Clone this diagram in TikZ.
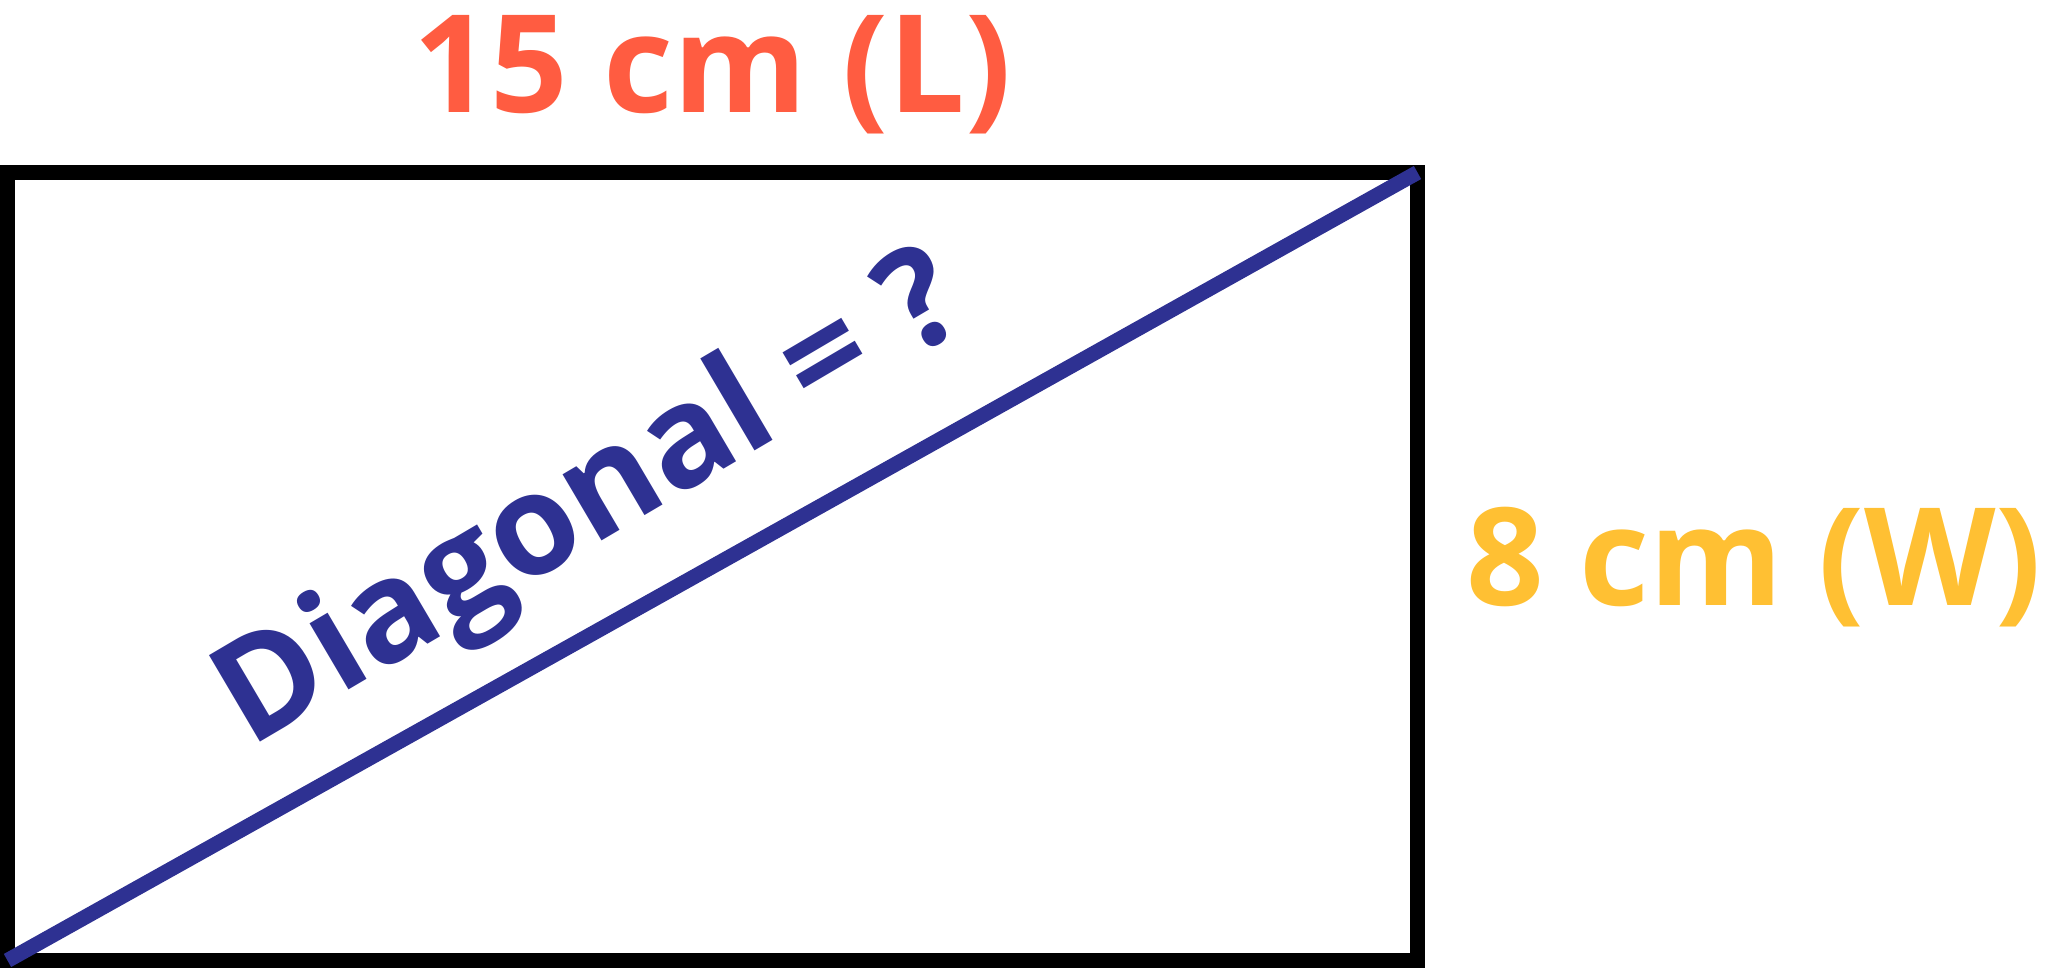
\documentclass[tikz,border=0pt]{standalone}
\usepackage{fontspec}
\setmainfont{Open Sans}
\usepackage{tikz}
\usetikzlibrary{positioning}
\usepackage{xcolor}
\definecolor{lenred}{HTML}{FF5C41}
\definecolor{widyellow}{HTML}{FFC033}
\definecolor{diagblue}{HTML}{2E3192}

\begin{document}
\begin{tikzpicture}[lbl/.style={font=\bfseries\fontsize{38.7}{46}\selectfont, inner sep=0pt}]
    \useasboundingbox (0,0) rectangle (20.48,9.69);
    % 矩形与对角线
    \node[draw=black, line width=0.15cm, rectangle, outer sep=0pt, minimum width=14.10cm, minimum height=7.88cm] (field) at (7.125,4.025) {};

    \node[lbl, text=lenred, anchor=base] (len) at (7.125,8.56) {15 cm (L)};
    \node[lbl, text=widyellow, anchor=base] (wid) at (17.54,3.64) {8 cm (W)};
    \node[lbl, font=\bfseries\fontsize{40}{48}\selectfont, text=diagblue, rotate=30.5, anchor=base west] (diag) at (2.49,2.20) {Diagonal = ?};

    \draw[diagblue, line width=0.15cm] (field.south west) -- (field.north east);
\end{tikzpicture}
\end{document}
